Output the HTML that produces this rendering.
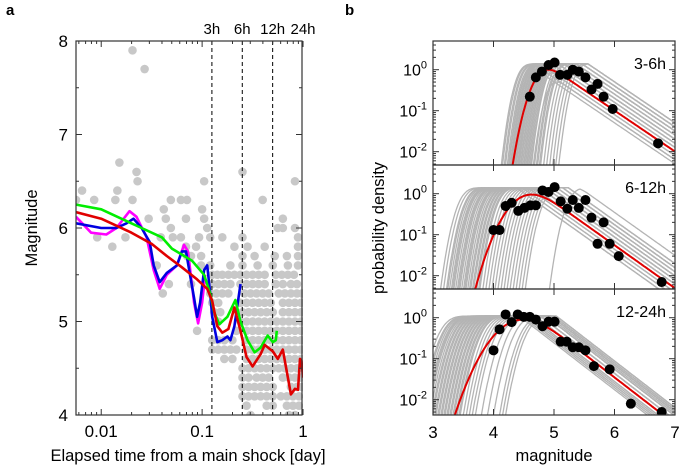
<!DOCTYPE html>
<html><head><meta charset="utf-8"><style>
body{margin:0;background:#fff}
svg{display:block;font-family:"Liberation Sans",Arial,sans-serif}
</style></head><body>
<svg id="c" width="685" height="467" viewBox="0 0 685 467" xmlns="http://www.w3.org/2000/svg">
<defs>
<clipPath id="clipA"><rect x="76" y="41" width="227" height="374"/></clipPath>
<clipPath id="clipB0"><rect x="433" y="41" width="242" height="124"/></clipPath>
<clipPath id="clipB1"><rect x="433" y="165" width="242" height="124"/></clipPath>
<clipPath id="clipB2"><rect x="433" y="289" width="242" height="126"/></clipPath>
</defs>
<text x="6" y="15" font-size="15" font-weight="bold">a</text>
<text x="345" y="15" font-size="15" font-weight="bold">b</text>
<g id="ga"></g>
<g id="gb"></g>
</svg>
<script>
// ---------- Panel a data ----------
const sparseDots = [[-1.69,7.9],[-1.57,7.7],[-2.25,6.3],[-2.19,6.4],[-2.04,5.9],[-2.07,6.3],[-1.82,6.7],[-1.84,6.4],[-1.86,6.3],[-1.89,5.8],[-1.76,5.9],[-1.65,6.6],[-1.64,6.5],[-1.69,6.3],[-1.53,6.1],[-1.38,6.2],[-1.36,6.1],[-1.31,6.3],[-1.31,6.0],[-1.41,5.9],[-1.29,5.9],[-1.21,6.3],[-1.15,6.3],[-1.16,6.1],[-1.21,5.9],[-1.16,5.8],[-1.15,5.7],[-1.11,5.7],[-1.01,5.7],[-1.33,5.4],[-1.45,5.6],[-1.39,5.3],[-1.01,5.6],[-1.06,5.8],[-1.03,5.9],[-1.0,6.2],[-0.98,6.1],[-0.98,6.5],[-0.95,6.0],[-0.92,5.9],[-1.05,4.9],[-1.11,5.4],[-0.92,5.6],[-0.72,5.6],[-0.6,5.6],[-0.45,5.6],[-0.3,5.6],[-0.15,5.6],[-0.05,5.6],[-0.6,5.7],[-0.48,5.7],[-0.28,5.7],[-0.16,5.7],[-0.05,5.7],[-0.68,5.8],[-0.55,5.8],[-0.38,5.8],[-0.05,5.8],[-0.8,5.9],[-0.6,5.9],[-0.05,5.9],[-0.25,6.0],[-0.2,6.0],[-0.08,6.0],[-0.2,6.1],[-0.4,6.3],[-0.6,6.6],[-0.08,6.5]];
const denseMags = [5.5,5.4,5.3,5.2,5.1,5.0,4.9,4.8,4.7,4.6,4.5,4.4,4.3,4.2,4.1,4.0];
const denseTimes = [
[-0.9,-0.85,-0.8,-0.74,-0.68,-0.62,-0.56,-0.5,-0.44,-0.38,-0.27,-0.21,-0.15,-0.09],
[-0.9,-0.84,-0.78,-0.72,-0.62,-0.56,-0.5,-0.44,-0.38,-0.27,-0.2,-0.12,-0.06],
[-0.92,-0.86,-0.8,-0.74,-0.58,-0.52,-0.46,-0.4,-0.34,-0.24,-0.18,-0.12,-0.06,-0.01],
[-0.9,-0.84,-0.62,-0.56,-0.5,-0.44,-0.38,-0.32,-0.2,-0.14,-0.08,-0.02],
[-0.88,-0.82,-0.6,-0.54,-0.48,-0.42,-0.36,-0.3,-0.2,-0.14,-0.08,-0.02],
[-0.84,-0.62,-0.56,-0.5,-0.44,-0.38,-0.32,-0.26,-0.2,-0.14,-0.08,-0.02],
[-0.66,-0.56,-0.5,-0.44,-0.38,-0.32,-0.26,-0.2,-0.14,-0.08,-0.02],
[-0.9,-0.84,-0.78,-0.7,-0.56,-0.5,-0.44,-0.38,-0.32,-0.26,-0.2,-0.14,-0.08,-0.02],
[-0.9,-0.84,-0.78,-0.72,-0.66,-0.56,-0.5,-0.44,-0.38,-0.32,-0.26,-0.2,-0.14,-0.08,-0.02],
[-0.78,-0.7,-0.56,-0.5,-0.44,-0.38,-0.32,-0.26,-0.2,-0.14,-0.08,-0.02],
[-0.6,-0.54,-0.48,-0.42,-0.36,-0.3,-0.24,-0.18,-0.12,-0.06,-0.01],
[-0.6,-0.54,-0.46,-0.4,-0.34,-0.2,-0.14,-0.08,-0.02],
[-0.6,-0.54,-0.48,-0.42,-0.36,-0.3,-0.12,-0.06,-0.01],
[-0.6,-0.54,-0.48,-0.42,-0.36,-0.3,-0.22,-0.16,-0.1,-0.04],
[-0.56,-0.36,-0.3,-0.16,-0.1,-0.04],
[-0.52,-0.14,-0.08]];
const magentaLine = [[-2.25,6.12],[-2.1,5.95],[-1.95,5.93],[-1.85,6.0],[-1.72,6.18],[-1.65,6.12],[-1.55,5.9],[-1.48,5.55],[-1.42,5.35],[-1.35,5.5],[-1.25,5.6],[-1.18,5.82],[-1.14,5.75],[-1.08,5.2],[-1.04,4.98],[-1.0,5.2],[-0.97,5.5]];
const blueLine = [[-2.25,6.05],[-2.0,6.0],[-1.85,6.0],[-1.75,6.05],[-1.68,6.1],[-1.6,6.0],[-1.52,5.85],[-1.48,5.6],[-1.42,5.42],[-1.35,5.52],[-1.25,5.6],[-1.2,5.75],[-1.16,5.75],[-1.12,5.5],[-1.08,5.25],[-1.05,5.05],[-1.02,5.2],[-0.98,5.55],[-0.95,5.6],[-0.92,5.3],[-0.9,5.05],[-0.85,4.78],[-0.8,4.8],[-0.75,4.84],[-0.72,4.8],[-0.68,4.95],[-0.62,5.4]];
const greenLine = [[-2.25,6.25],[-2.0,6.2],[-1.8,6.1],[-1.6,6.0],[-1.4,5.9],[-1.3,5.78],[-1.1,5.65],[-0.98,5.5],[-0.92,5.3],[-0.88,5.1],[-0.83,4.97],[-0.75,5.05],[-0.67,5.23],[-0.62,5.0],[-0.55,4.8],[-0.48,4.67],[-0.42,4.72],[-0.35,4.85],[-0.3,4.78],[-0.27,4.8],[-0.26,4.9]];
const redLine = [[-2.25,6.17],[-2.0,6.1],[-1.9,6.05],[-1.7,5.95],[-1.5,5.83],[-1.35,5.7],[-1.2,5.58],[-1.05,5.45],[-0.95,5.35],[-0.9,5.22],[-0.85,4.95],[-0.8,4.88],[-0.74,4.92],[-0.68,5.15],[-0.62,4.9],[-0.56,4.62],[-0.5,4.52],[-0.42,4.65],[-0.38,4.75],[-0.3,4.68],[-0.25,4.6],[-0.2,4.7],[-0.15,4.4],[-0.12,4.22],[-0.08,4.28],[-0.05,4.27],[-0.03,4.6],[-0.015,4.58],[0.0,4.4]];
const yTicksA = [4,5,6,7,8];
const xTickValsA = [-2,-1,0];
const xTickLabelsA = ["0.01","0.1","1"];
const windowTimes = [0.125,0.25,0.5,1];
const windowLabels = ["3h","6h","12h","24h"];

// ---------- Panel b data ----------
const panelNames = ["3-6h","6-12h","12-24h"];
const obsMag = [
[4.6,4.7,4.8,4.91,5.01,5.1,5.22,5.31,5.41,5.52,5.62,5.72,5.82,5.97,6.72],
[4.0,4.1,4.2,4.3,4.41,4.51,4.61,4.7,4.81,4.91,5.01,5.11,5.22,5.31,5.41,5.52,5.62,5.72,5.82,5.92,6.07,6.78],
[4.0,4.1,4.2,4.3,4.4,4.5,4.6,4.7,4.81,4.91,5.01,5.11,5.21,5.31,5.41,5.52,5.66,5.92,6.27,6.78]];
const obsDens = [
[0.22,0.65,0.9,1.3,1.5,0.75,0.75,1.0,0.9,0.65,0.33,0.45,0.22,0.11,0.016],
[0.13,0.13,0.5,0.6,0.38,0.45,0.52,0.52,1.2,1.1,1.45,0.65,0.43,0.7,0.45,0.7,0.26,0.06,0.2,0.06,0.03,0.007],
[0.16,0.52,1.2,0.78,1.2,1.05,1.05,0.9,0.62,0.8,0.8,0.26,0.26,0.19,0.19,0.16,0.066,0.055,0.008,0.005]];
// fitted model params
const fitMu = [4.78,4.55,4.5];
const fitSigma = [0.15,0.25,0.31];
const fitB = [1.0,1.05,1.14];
const fitRefM = [5.8,5.8,5.5];
const fitRefV = [0.16,0.09,0.13];
const greyCap = [1.4,1.4,1.1];
const greySigma = [0.1,0.12,0.15];
const greyOffset = [0.25,0.05,0.1];
const greyMu = [
[4.15,4.17,4.2,4.22,4.25,4.27,4.28,4.3,4.31,4.32,4.34,4.35,4.36,4.38,4.39,4.4,4.42,4.43,4.44,4.45,4.47,4.48,4.5,4.52,4.53,4.55,4.57,4.58,4.6,4.62,4.64,4.65,4.68,4.7,4.73,4.75,4.78,4.8,4.85,4.9,4.95,5.0,5.05,5.1],
[3.4,3.45,3.5,3.52,3.55,3.58,3.6,3.62,3.65,3.68,3.7,3.72,3.75,3.78,3.8,3.82,3.85,3.88,3.9,3.93,3.95,3.98,4.0,4.03,4.05,4.1,4.15,4.2,4.25,4.3,4.35,4.4,4.45,4.5,4.55,4.6,4.65,4.7,4.75,4.8,5.2],
[3.05,3.1,3.12,3.15,3.18,3.2,3.22,3.25,3.28,3.3,3.33,3.35,3.38,3.4,3.43,3.45,3.48,3.5,3.53,3.55,3.58,3.6,3.63,3.65,3.68,3.7,3.73,3.75,3.8,3.85,3.9,3.95,4.0,4.1,4.2,4.3,4.4,4.45,4.5]];
const greyShift = [
[0.1,-0.2,0.3,0.0,0.5,-0.1,0.2,0.6,-0.3,0.4,0.1,0.3,-0.2,0.5,0.0,0.2,0.6,-0.1,0.3,0.4,0.1,0.5,0.2,0.6,0.3,0.4,0.5,0.6,0.7,0.7,0.0,0.3,-0.2,0.5,0.1,0.4,0.6,0.2,0.5,0.3,0.6,0.5,0.7,0.7],
[-0.3,0.0,-0.2,0.2,-0.1,0.3,0.0,-0.3,0.1,0.2,-0.2,0.4,0.0,0.1,0.3,-0.1,0.2,0.5,0.0,0.3,0.4,0.1,0.5,0.2,0.6,0.3,0.4,0.5,0.6,0.2,-0.1,0.3,0.0,0.4,0.1,0.5,0.2,0.6,0.3,0.5,0.8],
[-0.3,0.0,-0.2,0.2,-0.1,0.3,0.0,-0.25,0.1,0.2,-0.15,0.35,0.0,0.1,0.3,-0.1,0.2,0.4,0.0,0.3,0.1,0.2,0.3,0.0,0.1,0.2,0.3,0.4,-0.2,0.25,0.1,-0.1,0.3,0.0,0.2,0.35,0.1,0.3,0.4]];
const xTicksB = [3,4,5,6,7];
const yTickExpB = [0,-1,-2];

// ---------- helpers ----------
const NS="http://www.w3.org/2000/svg";
function mk(parent,tag,attrs){const e=document.createElementNS(NS,tag);for(const k in attrs)e.setAttribute(k,attrs[k]);parent.appendChild(e);return e;}
function erf(x){const s=x<0?-1:1;x=Math.abs(x);const t=1/(1+0.3275911*x);const y=1-(((((1.061405429*t-1.453152027)*t)+1.421413741)*t-0.284496736)*t+0.254829592)*t*Math.exp(-x*x);return s*y;}
function Phi(z){return 0.5*(1+erf(z/Math.SQRT2));}

// ---------- Panel a ----------
const ga=document.getElementById('ga');
const xA=l=>76+(l+2.25)*100.9;
const yA=m=>41+(8-m)*93.5;
const dotsG=mk(ga,'g',{'clip-path':'url(#clipA)'});


function dot(l,m){const c=mk(dotsG,'circle',{cx:xA(l),cy:yA(m),r:4.3,fill:'#c8c8c8'});

}
sparseDots.forEach(p=>dot(p[0],p[1]));
denseMags.forEach((m,i)=>denseTimes[i].forEach(l=>dot(l,m)));
windowTimes.forEach((t,i)=>{const x=xA(Math.log10(t));
 if(i<3){const ln=mk(ga,'line',{x1:x,x2:x,y1:41,y2:415,stroke:'#000','stroke-width':1,'stroke-dasharray':'4,3'});
 
 }
 const tx=mk(ga,'text',{x:x,y:34,'font-size':15,'text-anchor':'middle'});tx.textContent=windowLabels[i];
 
 });
const lineG=mk(ga,'g',{'clip-path':'url(#clipA)'});
function series(arr,color,name){const d=arr.map((p,i)=>(i?'L':'M')+xA(p[0]).toFixed(1)+','+yA(p[1]).toFixed(1)).join('');
 const p=mk(lineG,'path',{d:d,fill:'none',stroke:color,'stroke-width':2.6,'stroke-linejoin':'round'});
 
 }
series(magentaLine,'#ff00ff','magenta-line');
series(blueLine,'#0000e0','blue-line');
series(greenLine,'#00ee00','green-line');
series(redLine,'#e00000','red-line');
const fa=mk(ga,'rect',{x:76,y:41,width:226,height:374,fill:'none',stroke:'#333','stroke-width':1.2});


for(let m=4;m<=8;m+=0.5){const major=Number.isInteger(m);const L=major?6:3;const y=yA(m);
 mk(ga,'line',{x1:76,x2:76+L,y1:y,y2:y,stroke:'#333'});mk(ga,'line',{x1:302,x2:302-L,y1:y,y2:y,stroke:'#333'});}
yTicksA.forEach(m=>{const t=mk(ga,'text',{x:68,y:yA(m)+6,'font-size':17,'text-anchor':'end'});t.textContent=m;
 
 });
for(let d=-3;d<=0;d++){for(let k=1;k<=9;k++){const l=d+Math.log10(k);if(l<-2.25||l>0.001)continue;const L=k===1?6:3;const x=xA(l);
 mk(ga,'line',{x1:x,x2:x,y1:415,y2:415-L,stroke:'#333'});mk(ga,'line',{x1:x,x2:x,y1:41,y2:41+L,stroke:'#333'});}}
xTickValsA.forEach((l,i)=>{const t=mk(ga,'text',{x:xA(l),y:437,'font-size':17,'text-anchor':'middle'});t.textContent=xTickLabelsA[i];
 
 });
let t=mk(ga,'text',{x:188,y:461,'font-size':16.5,'text-anchor':'middle'});t.textContent='Elapsed time from a main shock [day]';


t=mk(ga,'text',{x:0,y:0,'font-size':16.5,'text-anchor':'middle',transform:'translate(37,228) rotate(-90)'});t.textContent='Magnitude';



// ---------- Panel b ----------
const gb=document.getElementById('gb');
const tops=[41,165,289];
const bots=[165,289,415];
const xB=m=>433+(m-3)*60.5;
const yB=(i,v)=>tops[i]+(0.7-Math.log10(v))*41;
function lineV(i,m){return Math.pow(10,Math.log10(fitRefV[i])-fitB[i]*(m-fitRefM[i]));}
for(let i=0;i<3;i++){
 const pg=mk(gb,'g',{});
 
 
 const cg=mk(pg,'g',{'clip-path':'url(#clipB'+i+')'});
 greyMu[i].forEach((mu,j)=>{let d='';let started=false;
  for(let m=3;m<=7.001;m+=0.01){const v=Math.min(greyCap[i],lineV(i,m)*Math.pow(10,greyShift[i][j]))*Phi((m-mu-greyOffset[i])/greySigma[i]);
   if(v<1e-3){started=false;continue;}
   d+=(started?'L':'M')+xB(m).toFixed(1)+','+yB(i,v).toFixed(1);started=true;}
  const p=mk(cg,'path',{d:d,fill:'none',stroke:'#b4b4b4','stroke-width':1.3});
  
  });
 let d='';let st=false;
 for(let m=3;m<=7.001;m+=0.01){const v=lineV(i,m)*Phi((m-fitMu[i])/fitSigma[i]);if(v<1e-3){st=false;continue;}
  d+=(st?'L':'M')+xB(m).toFixed(1)+','+yB(i,v).toFixed(1);st=true;}
 const rp=mk(cg,'path',{d:d,fill:'none',stroke:'#e00000','stroke-width':2});
 
 
 obsMag[i].forEach((m,j)=>{const c=mk(cg,'circle',{cx:xB(m),cy:yB(i,obsDens[i][j]),r:5,fill:'#000'});
  
  });
 mk(pg,'rect',{x:433,y:tops[i],width:242,height:bots[i]-tops[i],fill:'none',stroke:'#333','stroke-width':1.2});
 xTicksB.forEach(m=>{const x=xB(m);mk(pg,'line',{x1:x,x2:x,y1:bots[i],y2:bots[i]-6,stroke:'#333'});mk(pg,'line',{x1:x,x2:x,y1:tops[i],y2:tops[i]+6,stroke:'#333'});});
 for(let e=-3;e<=1;e++){for(let k=1;k<=9;k++){const v=k*Math.pow(10,e);const y=yB(i,v);if(y<=tops[i]+0.5||y>=bots[i]-0.5)continue;const L=k===1?6:3;
  mk(pg,'line',{x1:433,x2:433+L,y1:y,y2:y,stroke:'#333'});mk(pg,'line',{x1:675,x2:675-L,y1:y,y2:y,stroke:'#333'});}}
 yTickExpB.forEach(e=>{const y=yB(i,Math.pow(10,e));const tx=mk(pg,'text',{x:427,y:y+6,'font-size':16,'text-anchor':'end'});
  tx.textContent='10';const sp=mk(tx,'tspan',{dy:-7,'font-size':11});sp.textContent=String(e);
  
  });
 const lb=mk(pg,'text',{x:666,y:tops[i]+28,'font-size':16,'text-anchor':'end'});lb.textContent=panelNames[i];
 
 
}
xTicksB.forEach(m=>{const tx=mk(gb,'text',{x:xB(m),y:438,'font-size':17,'text-anchor':'middle'});tx.textContent=m;
 
 });
t=mk(gb,'text',{x:554,y:461,'font-size':16.5,'text-anchor':'middle'});t.textContent='magnitude';


t=mk(gb,'text',{x:0,y:0,'font-size':16.5,'text-anchor':'middle',transform:'translate(384,228) rotate(-90)'});t.textContent='probability density';


</script>
</body></html>
